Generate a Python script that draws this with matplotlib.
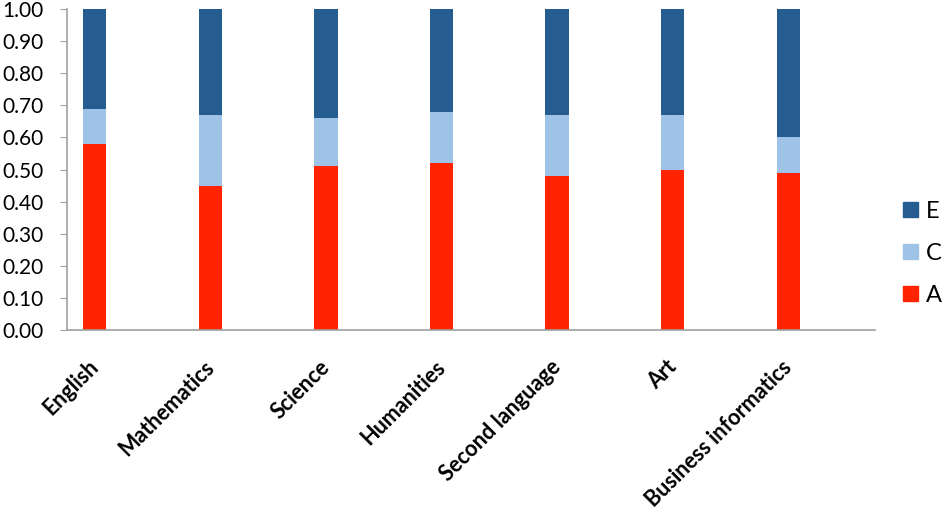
import numpy as np
import matplotlib.pyplot as plt
from matplotlib.patches import Patch

subjects = ['English', 'Mathematics', 'Science', 'Humanities',
            'Second language', 'Art', 'Business informatics']
share_A = [0.58, 0.45, 0.51, 0.52, 0.48, 0.50, 0.49]
share_C = [0.11, 0.22, 0.15, 0.16, 0.19, 0.17, 0.11]
share_E = [0.31, 0.33, 0.34, 0.32, 0.33, 0.33, 0.40]
yticks = np.arange(0, 1.01, 0.1)

col_A = '#FF2300'
col_C = '#9FC2E7'
col_E = '#265D90'

plt.rcParams['font.family'] = ['Lato', 'DejaVu Sans']

fig = plt.figure(figsize=(9.46, 5.09), dpi=100)
ax = fig.add_axes([0.0708, 0.3517, 0.8542, 0.6303])

x = np.arange(len(subjects))
a = np.array(share_A)
c = np.array(share_C)
e = np.array(share_E)
w = 0.2
ax.bar(x, a, width=w, color=col_A, label='A')
ax.bar(x, c, width=w, bottom=a, color=col_C, label='C')
ax.bar(x, e, width=w, bottom=a + c, color=col_E, label='E')

ax.set_xlim(-0.242, 6.753)
ax.set_ylim(0, 1.0)
ax.set_yticks(yticks)
ax.set_yticklabels([f'{v:.2f}' for v in yticks], fontsize=15)
ax.set_xticks(x - 0.06)
ax.set_xticklabels(subjects, rotation=45, ha='right', rotation_mode='anchor',
                   fontsize=15.5, fontweight='bold')
ax.tick_params(axis='x', length=0, pad=19)
ax.tick_params(axis='y', length=5, color='#A0A0A0', pad=12)

for s in ['top', 'right']:
    ax.spines[s].set_visible(False)
for s in ['left', 'bottom']:
    ax.spines[s].set_color('#A0A0A0')
    ax.spines[s].set_linewidth(1.2)

handles = [Patch(color=col_E, label='E'), Patch(color=col_C, label='C'),
           Patch(color=col_A, label='A')]
fig.legend(handles=handles, loc='center left', bbox_to_anchor=(0.955, 0.502),
           frameon=False, fontsize=17, handlelength=0.6, handleheight=0.6,
           handletextpad=0.35, labelspacing=0.88, borderaxespad=0,
           borderpad=0)

fig.savefig('out.png', dpi=100)
